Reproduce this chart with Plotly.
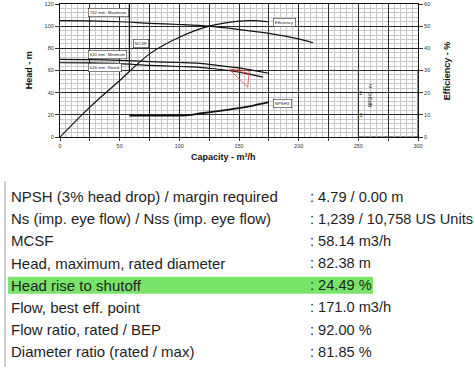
import plotly.graph_objects as go

# ---------------- data ----------------
head_max_x = [0, 25, 50, 75, 100, 125, 150, 175, 200, 212]
head_max_y = [105, 104.7, 104, 102.6, 101.5, 100, 97, 93.5, 88.5, 85]

head_upper_x = [0, 25, 50, 75, 100, 117, 125, 150, 175]
head_upper_y = [70, 69.8, 69.2, 68, 67.2, 66.5, 65.6, 62.3, 57.5]

head_lower_x = [0, 25, 50, 75, 100, 117, 125, 150, 170]
head_lower_y = [67, 66.8, 66.2, 64.6, 63.6, 62.9, 62.0, 58.6, 54.0]

eff_x = [0, 25, 50, 75, 100, 125, 150, 162, 175]
eff_y = [0, 13.5, 25.5, 37.5, 45, 50, 52.3, 52.5, 52]

npsh_x = [58.14, 80, 100, 110, 117, 134, 150, 162, 175]
npsh_y = [0.96, 0.96, 0.97, 1.0, 1.06, 1.18, 1.3, 1.42, 1.57]

mcsf_flow = 58.14
tol_x = [141.9, 158.6, 157.3, 141.9]
tol_y = [61.1, 59.8, 44.9, 61.1]
tol_inner_x = [144.5, 157.8]
tol_inner_y = [60.2, 57.5]

x_ticks = [0, 25, 50, 75, 100, 125, 150, 175, 200, 225, 250, 275, 300]
x_ticktext = ["0", "", "50", "", "100", "", "150", "", "200", "", "250", "", "300"]
head_ticks = [0, 20, 40, 60, 80, 100, 120]
eff_ticks = [0, 10, 20, 30, 40, 50, 60]
npsh_ticks = [1, 2]

table_labels = [
    "NPSH (3% head drop) / margin required",
    "Ns (imp. eye flow) / Nss (imp. eye flow)",
    "MCSF",
    "Head, maximum, rated diameter",
    "Head rise to shutoff",
    "Flow, best eff. point",
    "Flow ratio, rated / BEP",
    "Diameter ratio (rated / max)",
]
table_values = [
    ": 4.79 / 0.00 m",
    ": 1,239 / 10,758 US Units",
    ": 58.14 m3/h",
    ": 82.38 m",
    ": 24.49 %",
    ": 171.0 m3/h",
    ": 92.00 %",
    ": 81.85 %",
]
highlight_row = 4

curve_labels = [
    ("762 mm  Maximum", 23.7, 112),
    ("610 mm  Minimum", 23.7, 74.5),
    ("626 mm  Rated", 23.7, 62.7),
    ("MCSF", 61.4, 84.5),
    ("Efficiency", 178.8, 103.5),
    ("NPSH3", 178.2, 30.4),
]

# ---------------- layout helpers ----------------
W, H = 474, 367
L, R, T, B = 60, 418, 4.3, 137.0
def px_x(p):
    return (p - L) / (R - L)
def px_y(p):
    return (B - p) / (B - T)

FONT = "Liberation Sans, Arial, sans-serif"
BLACK = "#111111"

fig = go.Figure()

line_style = dict(color=BLACK, width=1.2, shape="spline", smoothing=0.8)
fig.add_trace(go.Scatter(x=head_max_x, y=head_max_y, mode="lines", line=line_style, yaxis="y"))
fig.add_trace(go.Scatter(x=head_upper_x, y=head_upper_y, mode="lines", line=line_style, yaxis="y"))
fig.add_trace(go.Scatter(x=head_lower_x, y=head_lower_y, mode="lines", line=line_style, yaxis="y"))
fig.add_trace(go.Scatter(x=[mcsf_flow, mcsf_flow], y=[60, 120], mode="lines",
                         line=dict(color=BLACK, width=1.2), yaxis="y"))
fig.add_trace(go.Scatter(x=eff_x, y=eff_y, mode="lines", line=line_style, yaxis="y2"))
fig.add_trace(go.Scatter(x=npsh_x, y=npsh_y, mode="lines",
                         line=dict(color=BLACK, width=1.8, shape="spline", smoothing=0.8), yaxis="y3"))
fig.add_trace(go.Scatter(x=tol_x, y=tol_y, mode="lines", line=dict(color="#e0443c", width=0.8), yaxis="y"))
fig.add_trace(go.Scatter(x=tol_inner_x, y=tol_inner_y, mode="lines", line=dict(color="#e0443c", width=0.8), yaxis="y"))

tickfont = dict(family=FONT, size=5.5, color="#333")

fig.update_layout(
    width=W, height=H,
    margin=dict(l=L, r=W - R, t=T, b=H - B, pad=0, autoexpand=False),
    paper_bgcolor="white", plot_bgcolor="white",
    showlegend=False,
    font=dict(family=FONT, color="#222"),
    xaxis=dict(
        range=[0, 300], tickmode="array", tickvals=x_ticks, ticktext=x_ticktext,
        showgrid=True, gridcolor="#2a2a2a", gridwidth=1,
        minor=dict(dtick=5, showgrid=True, gridcolor="#c8c8c8", gridwidth=0.6),
        showline=True, linecolor="#111", linewidth=1.2, mirror=True,
        ticks="outside", ticklen=3, tickcolor="#333", tickfont=tickfont,
        zeroline=False, fixedrange=True, automargin=False,
    ),
    yaxis=dict(
        range=[0, 120], tickmode="array", tickvals=head_ticks,
        showgrid=True, gridcolor="#2a2a2a", gridwidth=1,
        minor=dict(dtick=4, showgrid=True, gridcolor="#c8c8c8", gridwidth=0.6),
        showline=True, linecolor="#111", linewidth=1.2, mirror=True,
        ticks="outside", ticklen=4, tickcolor="#333", tickfont=tickfont,
        zeroline=False, fixedrange=True, automargin=False,
    ),
    yaxis2=dict(
        range=[0, 60], overlaying="y", side="right", tickmode="array", tickvals=eff_ticks,
        showgrid=False, zeroline=False, ticks="outside", ticklen=4, tickcolor="#333",
        tickfont=tickfont, fixedrange=True, automargin=False,
    ),
    yaxis3=dict(
        range=[0, 6], overlaying="y", side="right", anchor="free", position=px_x(358.3),
        tickmode="array", tickvals=npsh_ticks, showgrid=False, zeroline=False,
        showline=False, ticks="", tickfont=dict(family=FONT, size=6, color="#333"),
        fixedrange=True, automargin=False,
    ),
)

# white box in lower right (no grid)
fig.add_shape(type="rect", xref="x", yref="y", x0=250, x1=300, y0=0, y1=60,
              fillcolor="white", line=dict(color="#111", width=1), layer="below")

# curve label boxes
for txt, x, y in curve_labels:
    fig.add_annotation(x=x, y=y, xref="x", yref="y", text=txt, showarrow=False,
                       xanchor="left", yanchor="middle",
                       font=dict(family=FONT, size=4.3, color="#222"),
                       bgcolor="white", bordercolor="#333", borderwidth=0.6, borderpad=1.2)

# axis titles
fig.add_annotation(x=px_x(22), y=px_y(70.5), xref="paper", yref="paper", text="<b>Head - m</b>",
                   textangle=-90, showarrow=False, font=dict(family=FONT, size=9, color="#111"))
fig.add_annotation(x=px_x(454), y=px_y(71.5), xref="paper", yref="paper", text="<b>Efficiency - %</b>",
                   textangle=-90, showarrow=False, font=dict(family=FONT, size=9, color="#111"))
fig.add_annotation(x=px_x(223), y=px_y(164), xref="paper", yref="paper", text="<b>Capacity - m³/h</b>",
                   showarrow=False, font=dict(family=FONT, size=9, color="#111"))
fig.add_annotation(x=px_x(375), y=px_y(109), xref="paper", yref="paper", text="NPSH3 - m",
                   textangle=-90, showarrow=False, font=dict(family=FONT, size=4.5, color="#222"))

# table
fig.add_shape(type="line", xref="paper", yref="paper", x0=px_x(5), x1=px_x(5),
              y0=px_y(181), y1=px_y(367), line=dict(color="#cfcfcf", width=2))
row0, step = 196.5, 22.1
for i, (lab, val) in enumerate(zip(table_labels, table_values)):
    cy = row0 + i * step
    if i == highlight_row:
        fig.add_shape(type="rect", xref="paper", yref="paper",
                      x0=px_x(8), x1=px_x(373), y0=px_y(cy - 8.5), y1=px_y(cy + 8.5),
                      fillcolor="#7ae46a", line=dict(width=0), layer="below")
    fig.add_annotation(x=px_x(9), y=px_y(cy), xref="paper", yref="paper", text=lab,
                       showarrow=False, xanchor="left", yanchor="middle",
                       font=dict(family=FONT, size=15, color="#1e1e1e"))
    fig.add_annotation(x=px_x(308), y=px_y(cy), xref="paper", yref="paper", text=val,
                       showarrow=False, xanchor="left", yanchor="middle",
                       font=dict(family=FONT, size=14.6, color="#1e1e1e"))

fig.write_html("out.html", config={"displayModeBar": False},
               post_script="document.body.style.margin='0';document.body.style.overflow='hidden';")
